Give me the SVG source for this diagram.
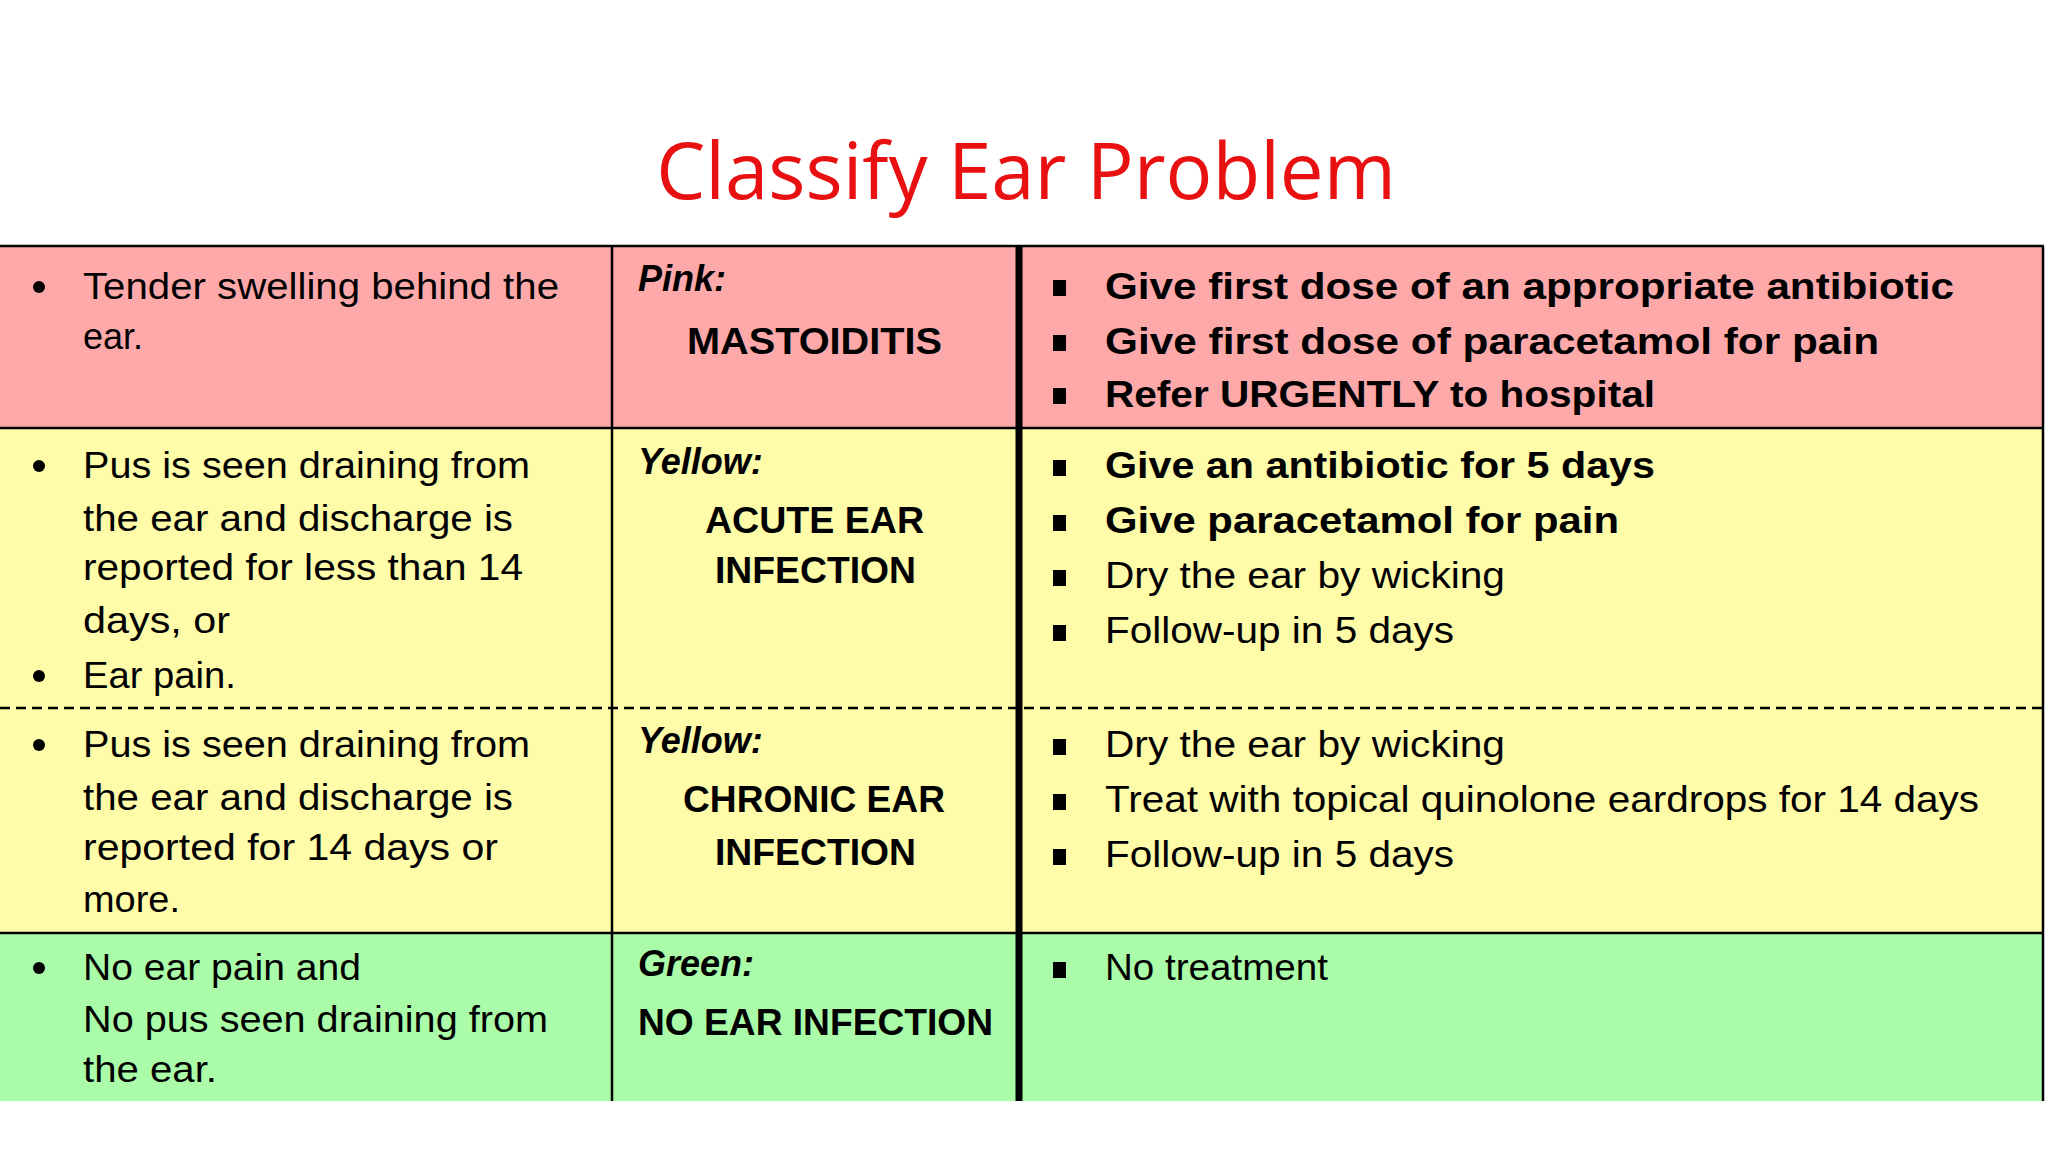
<svg xmlns="http://www.w3.org/2000/svg" width="2048" height="1152" viewBox="0 0 2048 1152">
<style>
.t{font-family:"Liberation Sans",Arial,sans-serif;font-size:36px;fill:#000}
.b{font-weight:bold}
.i{font-weight:bold;font-style:italic}
.ln{stroke:#000;stroke-width:2.5}
</style>
<rect width="2048" height="1152" fill="#fff"/>
<text x="1026" y="199" text-anchor="middle" font-family="'Open Sans',Calibri,sans-serif" font-size="78" fill="#e81010">Classify Ear Problem</text>
<g id="fills">
<rect x="0" y="246" width="2044" height="182" fill="#fda9a9"/>
<rect x="0" y="428" width="2044" height="505" fill="#fefba9"/>
<rect x="0" y="933" width="2044" height="168" fill="#aafca8"/>
</g>
<g id="grid">
<line class="ln" x1="0" y1="246" x2="2044" y2="246" stroke-width="3"/>
<line class="ln" x1="0" y1="428" x2="2044" y2="428"/>
<line class="ln" x1="0" y1="708" x2="2044" y2="708" stroke-dasharray="10 6" stroke-width="3"/>
<line class="ln" x1="0" y1="933" x2="2044" y2="933"/>
<line class="ln" x1="612" y1="246" x2="612" y2="1101"/>
<line x1="1019" y1="246" x2="1019" y2="1101" stroke="#000" stroke-width="7"/>
<line class="ln" x1="2043" y1="246" x2="2043" y2="1101"/>
</g>
<g id="row-mastoiditis">
<circle cx="39" cy="287" r="6"/>
<text class="t" x="83" y="299" textLength="476" lengthAdjust="spacingAndGlyphs">Tender swelling behind the</text>
<text class="t" x="83" y="349">ear.</text>
<text class="t i" x="638" y="291">Pink:</text>
<text class="t b" x="687" y="354" textLength="255" lengthAdjust="spacingAndGlyphs">MASTOIDITIS</text>
<rect x="1053" y="280" width="13" height="16"/><rect x="1053" y="335" width="13" height="16"/><rect x="1053" y="388" width="13" height="16"/>
<text class="t b" x="1105" y="299" textLength="849" lengthAdjust="spacingAndGlyphs">Give first dose of an appropriate antibiotic</text>
<text class="t b" x="1105" y="354" textLength="774" lengthAdjust="spacingAndGlyphs">Give first dose of paracetamol for pain</text>
<text class="t b" x="1105" y="407" textLength="550" lengthAdjust="spacingAndGlyphs">Refer URGENTLY to hospital</text>
</g>
<g id="row-acute">
<circle cx="39" cy="466" r="6"/><circle cx="39" cy="676" r="6"/>
<text class="t" x="83" y="478" textLength="447" lengthAdjust="spacingAndGlyphs">Pus is seen draining from</text>
<text class="t" x="83" y="531" textLength="430" lengthAdjust="spacingAndGlyphs">the ear and discharge is</text>
<text class="t" x="83" y="580" textLength="440" lengthAdjust="spacingAndGlyphs">reported for less than 14</text>
<text class="t" x="83" y="633" textLength="147" lengthAdjust="spacingAndGlyphs">days, or</text>
<text class="t" x="83" y="688" textLength="153" lengthAdjust="spacingAndGlyphs">Ear pain.</text>
<text class="t i" x="638" y="474">Yellow:</text>
<text class="t b" x="705" y="533" textLength="219" lengthAdjust="spacingAndGlyphs">ACUTE EAR</text>
<text class="t b" x="715" y="583" textLength="201" lengthAdjust="spacingAndGlyphs">INFECTION</text>
<rect x="1053" y="460" width="13" height="16"/><rect x="1053" y="515" width="13" height="16"/><rect x="1053" y="570" width="13" height="16"/><rect x="1053" y="625" width="13" height="16"/>
<text class="t b" x="1105" y="478" textLength="550" lengthAdjust="spacingAndGlyphs">Give an antibiotic for 5 days</text>
<text class="t b" x="1105" y="533" textLength="514" lengthAdjust="spacingAndGlyphs">Give paracetamol for pain</text>
<text class="t" x="1105" y="588" textLength="400" lengthAdjust="spacingAndGlyphs">Dry the ear by wicking</text>
<text class="t" x="1105" y="643" textLength="349" lengthAdjust="spacingAndGlyphs">Follow-up in 5 days</text>
</g>
<g id="row-chronic">
<circle cx="39" cy="745" r="6"/>
<text class="t" x="83" y="757" textLength="447" lengthAdjust="spacingAndGlyphs">Pus is seen draining from</text>
<text class="t" x="83" y="810" textLength="430" lengthAdjust="spacingAndGlyphs">the ear and discharge is</text>
<text class="t" x="83" y="860" textLength="415" lengthAdjust="spacingAndGlyphs">reported for 14 days or</text>
<text class="t" x="83" y="912" textLength="97" lengthAdjust="spacingAndGlyphs">more.</text>
<text class="t i" x="638" y="753">Yellow:</text>
<text class="t b" x="683" y="812" textLength="262" lengthAdjust="spacingAndGlyphs">CHRONIC EAR</text>
<text class="t b" x="715" y="865" textLength="201" lengthAdjust="spacingAndGlyphs">INFECTION</text>
<rect x="1053" y="739" width="13" height="16"/><rect x="1053" y="794" width="13" height="16"/><rect x="1053" y="849" width="13" height="16"/>
<text class="t" x="1105" y="757" textLength="400" lengthAdjust="spacingAndGlyphs">Dry the ear by wicking</text>
<text class="t" x="1105" y="812" textLength="874" lengthAdjust="spacingAndGlyphs">Treat with topical quinolone eardrops for 14 days</text>
<text class="t" x="1105" y="867" textLength="349" lengthAdjust="spacingAndGlyphs">Follow-up in 5 days</text>
</g>
<g id="row-none">
<circle cx="39" cy="968" r="6"/>
<text class="t" x="83" y="980" textLength="278" lengthAdjust="spacingAndGlyphs">No ear pain and</text>
<text class="t" x="83" y="1032" textLength="465" lengthAdjust="spacingAndGlyphs">No pus seen draining from</text>
<text class="t" x="83" y="1082" textLength="134" lengthAdjust="spacingAndGlyphs">the ear.</text>
<text class="t i" x="638" y="976">Green:</text>
<text class="t b" x="638" y="1035" textLength="355" lengthAdjust="spacingAndGlyphs">NO EAR INFECTION</text>
<rect x="1053" y="962" width="13" height="16"/>
<text class="t" x="1105" y="980" textLength="223" lengthAdjust="spacingAndGlyphs">No treatment</text>
</g>
</svg>
